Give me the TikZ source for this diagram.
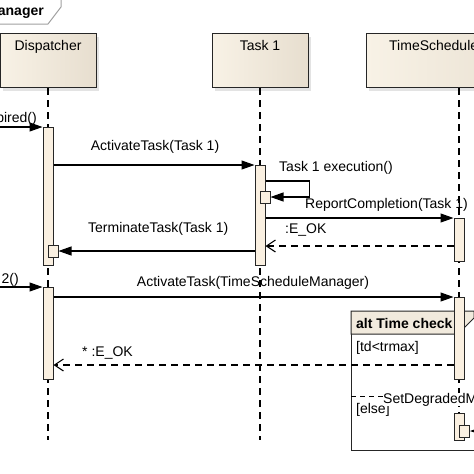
\documentclass[tikz,border=0pt]{standalone}
\usepackage{fontspec}
\setmainfont{Liberation Sans}
\usetikzlibrary{arrows.meta,shadows}

\definecolor{headl}{HTML}{F8F2E6}
\definecolor{headr}{HTML}{E7DECF}
\definecolor{barfill}{HTML}{FAF0E1}
\definecolor{altfill}{HTML}{F1EADD}
\definecolor{framegrey}{HTML}{A0A0A0}

\tikzset{
	head/.style={draw=black!85,line width=1pt,left color=headl,right color=headr,minimum width=96pt,minimum height=54pt,inner sep=0,anchor=north,drop shadow={shadow xshift=3pt,shadow yshift=-3pt,fill=black!22}},
	bar/.style={draw=black!85,line width=1pt,fill=barfill,minimum width=10pt,inner sep=0,anchor=north},
	tinybox/.style={draw=black!85,line width=1pt,fill=barfill,minimum width=10pt,minimum height=12pt,inner sep=0},
	lifeline/.style={line width=1.1pt,dash pattern=on 7pt off 5pt},
	msg/.style={line width=1.1pt,-{Triangle[length=13pt,width=9pt]}},
	reply/.style={line width=1.1pt,dash pattern=on 7pt off 5pt,-{Straight Barb[length=9pt,width=12pt]}},
	lbl/.style={inner sep=0,font=\fontsize{14}{16}\selectfont},
	bold/.style={inner sep=0,font=\fontsize{14}{16}\selectfont\bfseries}
}

\begin{document}
\begin{tikzpicture}[x=1pt,y=-1pt]
	\clip (0,0) rectangle (474,474);
	% frame name
	\draw[framegrey,line width=1pt,fill=white] (-2,-2) -- (61,-2) -- (61,7) -- (48,24) -- (-2,24);
	\node[bold,anchor=base east] (sdname) at (44,15) {anager};
	% heads
	\node[head] (disp) at (48,33) {};
	\node[head] (task) at (260,33) {};
	\node[head,minimum width=186pt] (tsm) at (459,33) {};
	\node[lbl,anchor=base] (dispname) at (48,50) {Dispatcher};
	\node[lbl,anchor=base] (taskname) at (260,50) {Task 1};
	\node[lbl,anchor=base west] (tsmname) at (389,50) {TimeSchedule};
	% lifelines
	\coordinate (dispend) at (48,440);
	\coordinate (taskend) at (260,440);
	\coordinate (tsmend) at (459,440);
	\draw[lifeline] (disp.south) -- (dispend);
	\draw[lifeline] (task.south) -- (taskend);
	\draw[lifeline] (tsm.south) -- (tsmend);
	% alt fragment
	\node[draw=black!85,line width=1.3pt,minimum width=200pt,minimum height=139pt,inner sep=0,anchor=north west] (alt) at (351,311) {};
	\draw[draw=black!85,line width=1pt,fill=altfill] (alt.north west) -- ++(123,0) -- ++(0,7) -- ++(-16,16) -- (351,334) -- cycle;
	\node[bold,anchor=base west] (altname) at (356,328) {alt Time check};
	\node[lbl,anchor=base west] (guard1) at (356,351) {[td<trmax]};
	\draw[line width=1pt,dash pattern=on 5pt off 4pt] (351,396) -- (474,396);
	\node[lbl,anchor=base west] (guard2) at (356,413) {[else]};
	% activations
	\node[bar,minimum height=138pt] (dbar1) at (48,127) {};
	\node[bar,minimum height=92pt] (dbar2) at (48,287) {};
	\node[bar,minimum height=100pt] (tbar) at (260,165) {};
	\node[bar,minimum height=43pt] (sbar1) at (459,218) {};
	\node[bar,minimum height=82pt] (sbar2) at (459,297) {};
	\node[bar,minimum height=27pt] (sbar3) at (459,413) {};
	\node[tinybox] (dbox) at (53,251) {};
	\node[tinybox] (tbox) at (265,197) {};
	\node[tinybox] (sbox) at (464.5,431) {};
	% messages
	\coordinate (gate1) at (0,127);
	\coordinate (gate2) at (0,287);
	\coordinate (selfret) at (486,431);
	\draw[msg] (gate1) -- (dbar1.north west);
	\draw[msg] (dbar1.east |- tbar.north) -- (tbar.north west);
	\draw[msg] ([yshift=-16pt]tbar.north east) -- ++(44,0) |- (tbox.east);
	\draw[msg] (tbar.east |- sbar1.north) -- (sbar1.north west);
	\coordinate (ok1) at ([yshift=16pt]sbar1.south west);
	\draw[reply] (ok1) -- (tbar.east |- ok1);
	\draw[msg] (tbar.west |- dbox.east) -- (dbox.east);
	\draw[msg] (gate2) -- (dbar2.north west);
	\draw[msg] (dbar2.east |- sbar2.north) -- (sbar2.north west);
	\coordinate (ok2) at ([yshift=15pt]sbar2.south west);
	\draw[reply] (ok2) -- (dbar2.east |- ok2);
	\draw[msg] (selfret) -- (sbox.east);
	% message labels
	\node[lbl,anchor=base east] (m1) at (37,122) {pired()};
	\node[lbl,anchor=base] (m2) at (155,150) {ActivateTask(Task 1)};
	\node[lbl,anchor=base west] (m3) at (279,171) {Task 1 execution()};
	\node[lbl,anchor=base west] (m4) at (305,208) {ReportCompletion(Task 1)};
	\node[lbl,anchor=base west] (m5) at (285,233) {:E\_OK};
	\node[lbl,anchor=base west] (m6) at (88,232) {TerminateTask(Task 1)};
	\node[lbl,anchor=base east] (m7) at (19,283) {2()};
	\node[lbl,anchor=base] (m8) at (253,286) {ActivateTask(TimeScheduleManager)};
	\node[lbl,anchor=base west] (m9) at (82,356) {* :E\_OK};
	\node[lbl,anchor=base west,fill=white] (m10) at (383,403) {SetDegradedM};
\end{tikzpicture}
\end{document}
